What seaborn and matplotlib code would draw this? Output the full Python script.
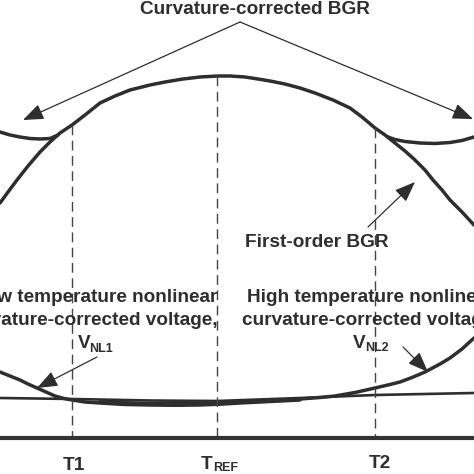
import matplotlib
matplotlib.use("Agg")
import matplotlib.pyplot as plt
import seaborn as sns

# schematic values (pixel units, y grows downwards)
first_x = [0, 8, 17, 28, 40, 50, 60, 72, 85, 100, 115, 130, 150, 165, 183, 200, 218, 230, 245,
           258, 270, 285, 300, 315, 333, 350, 362, 375, 385, 395, 405, 415, 425, 433, 442, 450, 462, 474]
first_y = [203, 192, 180, 166, 152, 142, 133, 125, 115, 103, 96, 90, 85, 82, 79, 77, 76, 76, 77,
           79, 81, 84, 88, 93, 100, 108, 117, 128, 135, 143, 151, 160, 170, 180, 190, 200, 212, 225]

corr_left_x = [0, 10, 20, 30, 40, 50, 58]
corr_left_y = [132, 135, 137, 138.5, 139, 138.5, 135]
corr_right_x = [388, 395, 405, 420, 435, 450, 462, 474]
corr_right_y = [137, 139.5, 141.5, 143, 143.5, 142.5, 140.5, 137]

nl1_x = [0, 10, 20, 28, 37, 46, 55, 64, 72, 85, 100, 125, 150, 175, 200, 220, 240, 270, 300]
nl1_y = [372, 376, 380, 384, 388, 392, 396, 398.5, 400, 402, 403, 404.5, 405, 405.3, 405, 404.2, 403, 401.5, 400]
nl2_x = [100, 150, 217, 260, 300, 320, 335, 355, 375, 390, 400, 412, 425, 440, 450, 462, 474]
nl2_y = [402, 403.5, 403, 401, 399, 397.5, 396, 392.5, 388, 384.5, 382, 377.5, 372, 364, 358, 349, 338]
flat_x = [0, 72, 150, 217, 300, 375, 474]
flat_y = [398, 399, 400.5, 401, 398, 395, 393]

temps = ["T1", "T", "T2"]
temp_x = [72, 217, 375]
temp_top = [125, 76, 128]
axis_y = 438

sns.set_theme(style="white")
plt.rcParams['font.family'] = ['Liberation Sans', 'DejaVu Sans']
plt.rcParams['lines.scale_dashes'] = False

ink = "#2e2e2e"
fig = plt.figure(figsize=(4.74, 4.74), dpi=100)
ax = fig.add_axes([0, 0, 1, 1])
ax.set_xlim(0, 474)
ax.set_ylim(474, 0)
ax.axis("off")

curves = [(first_x, first_y), (corr_left_x, corr_left_y), (corr_right_x, corr_right_y),
          (nl1_x, nl1_y), (nl2_x, nl2_y)]
for cx, cy in curves:
    sns.lineplot(x=cx, y=cy, sort=False, estimator=None, color=ink, lw=2.5, ax=ax)
sns.lineplot(x=flat_x, y=flat_y, sort=False, estimator=None, color=ink, lw=1.9, ax=ax)

# temperature markers and the axis
ax.vlines(temp_x, temp_top, axis_y, colors="#444444", lw=1.0, linestyles=(0, (7, 4)))
ax.axhline(axis_y, color="#333333", lw=3.0)

bold = dict(color=ink, fontweight="bold", fontsize=13.7)
sub = dict(color=ink, fontweight="bold", fontsize=9)
ax.text(255, 14, "Curvature-corrected BGR", ha="center", va="baseline", **bold)
ax.text(317, 247, "First-order BGR", ha="center", va="baseline", **bold)
ax.text(217, 302, "Low temperature nonlinear", ha="right", va="baseline", **bold)
ax.text(218, 325, "curvature-corrected voltage,", ha="right", va="baseline", **bold)
ax.text(247, 302, "High temperature nonlinear", ha="left", va="baseline", **bold)
ax.text(242, 325, "curvature-corrected voltage", ha="left", va="baseline", **bold)

ax.text(78, 348, "V", ha="left", va="baseline", **bold)
ax.text(89, 352, "NL1", ha="left", va="baseline", **sub)
ax.text(353, 348, "V", ha="left", va="baseline", **bold)
ax.text(365, 351, "NL2", ha="left", va="baseline", **sub)

ax.text(74, 470, temps[0], ha="center", va="baseline", **bold)
ax.text(201, 469, temps[1], ha="left", va="baseline", **bold)
ax.text(213, 471, "REF", ha="left", va="baseline", **sub)
ax.text(380, 468, temps[2], ha="center", va="baseline", **bold)

arrows = [((240, 22), (23, 120)), ((240, 22), (473, 119)),
          ((368, 227), (415, 182)), ((97, 357), (37, 388)), ((403, 347), (428, 372))]
for start, end in arrows:
    ax.annotate("", xy=end, xytext=start,
                arrowprops=dict(arrowstyle="-|>,head_length=0.9,head_width=0.35",
                                color=ink, lw=0.9, shrinkA=0, shrinkB=0, mutation_scale=14))

fig.savefig("out.png", dpi=100, facecolor="white")
